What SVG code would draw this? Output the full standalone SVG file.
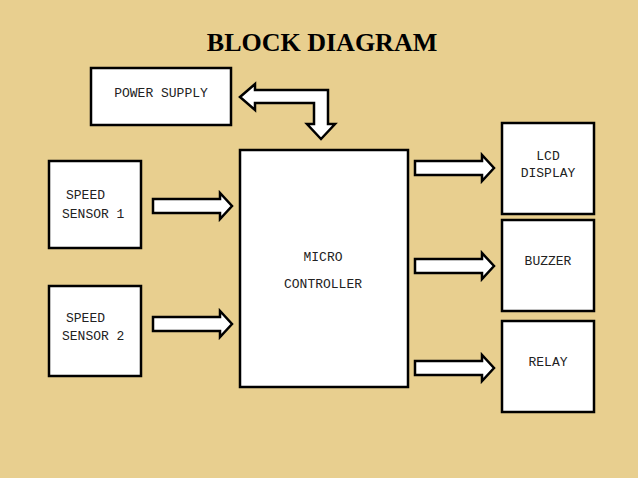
<svg xmlns="http://www.w3.org/2000/svg" width="638" height="478" viewBox="0 0 638 478">
<style>
.box{fill:#fff;stroke:#000;stroke-width:2.5}
.arr{fill:#fff;stroke:#000;stroke-width:2.5;stroke-linejoin:miter}
text{font-family:"Liberation Mono",monospace;font-size:13px;fill:#222}
</style>
<rect width="638" height="478" fill="#e8cf8f"/>
<text x="322" y="51" text-anchor="middle" style="font-family:'Liberation Serif',serif;font-size:26px;font-weight:bold;fill:#000">BLOCK DIAGRAM</text>
<g id="power"><rect class="box" x="91" y="68" width="140" height="57"/><text x="161" y="97" text-anchor="middle">POWER SUPPLY</text></g>
<g id="speed1"><rect class="box" x="49" y="161" width="92" height="87"/><text x="66" y="199">SPEED</text><text x="62" y="218">SENSOR 1</text></g>
<g id="speed2"><rect class="box" x="49" y="286" width="92" height="90"/><text x="66" y="322">SPEED</text><text x="62" y="340">SENSOR 2</text></g>
<g id="micro"><rect class="box" x="240" y="150" width="168" height="237"/><text x="323" y="261" text-anchor="middle">MICRO</text><text x="323" y="288" text-anchor="middle">CONTROLLER</text></g>
<g id="lcd"><rect class="box" x="502" y="123" width="92" height="91"/><text x="548" y="160" text-anchor="middle">LCD</text><text x="548" y="177" text-anchor="middle">DISPLAY</text></g>
<g id="buzzer"><rect class="box" x="502" y="220" width="92" height="91"/><text x="548" y="265" text-anchor="middle">BUZZER</text></g>
<g id="relay"><rect class="box" x="502" y="321" width="92" height="91"/><text x="548" y="366" text-anchor="middle">RELAY</text></g>
<g id="connectors">
<path class="arr" d="M240,97 L255,84 L255,90 L328,90 L328,124 L335,124 L321,139 L307,124 L314,124 L314,103 L255,103 L255,110 Z"/>
<path class="arr" d="M153,199 L220,199 L220,193 L232,206 L220,219 L220,213 L153,213 Z"/>
<path class="arr" d="M153,317 L220,317 L220,311 L232,324 L220,337 L220,331 L153,331 Z"/>
<path class="arr" d="M415,161 L482,161 L482,155 L494,168 L482,181 L482,175 L415,175 Z"/>
<path class="arr" d="M415,259 L482,259 L482,253 L494,266 L482,279 L482,273 L415,273 Z"/>
<path class="arr" d="M415,361 L482,361 L482,355 L494,368 L482,381 L482,375 L415,375 Z"/>
</g>
</svg>
